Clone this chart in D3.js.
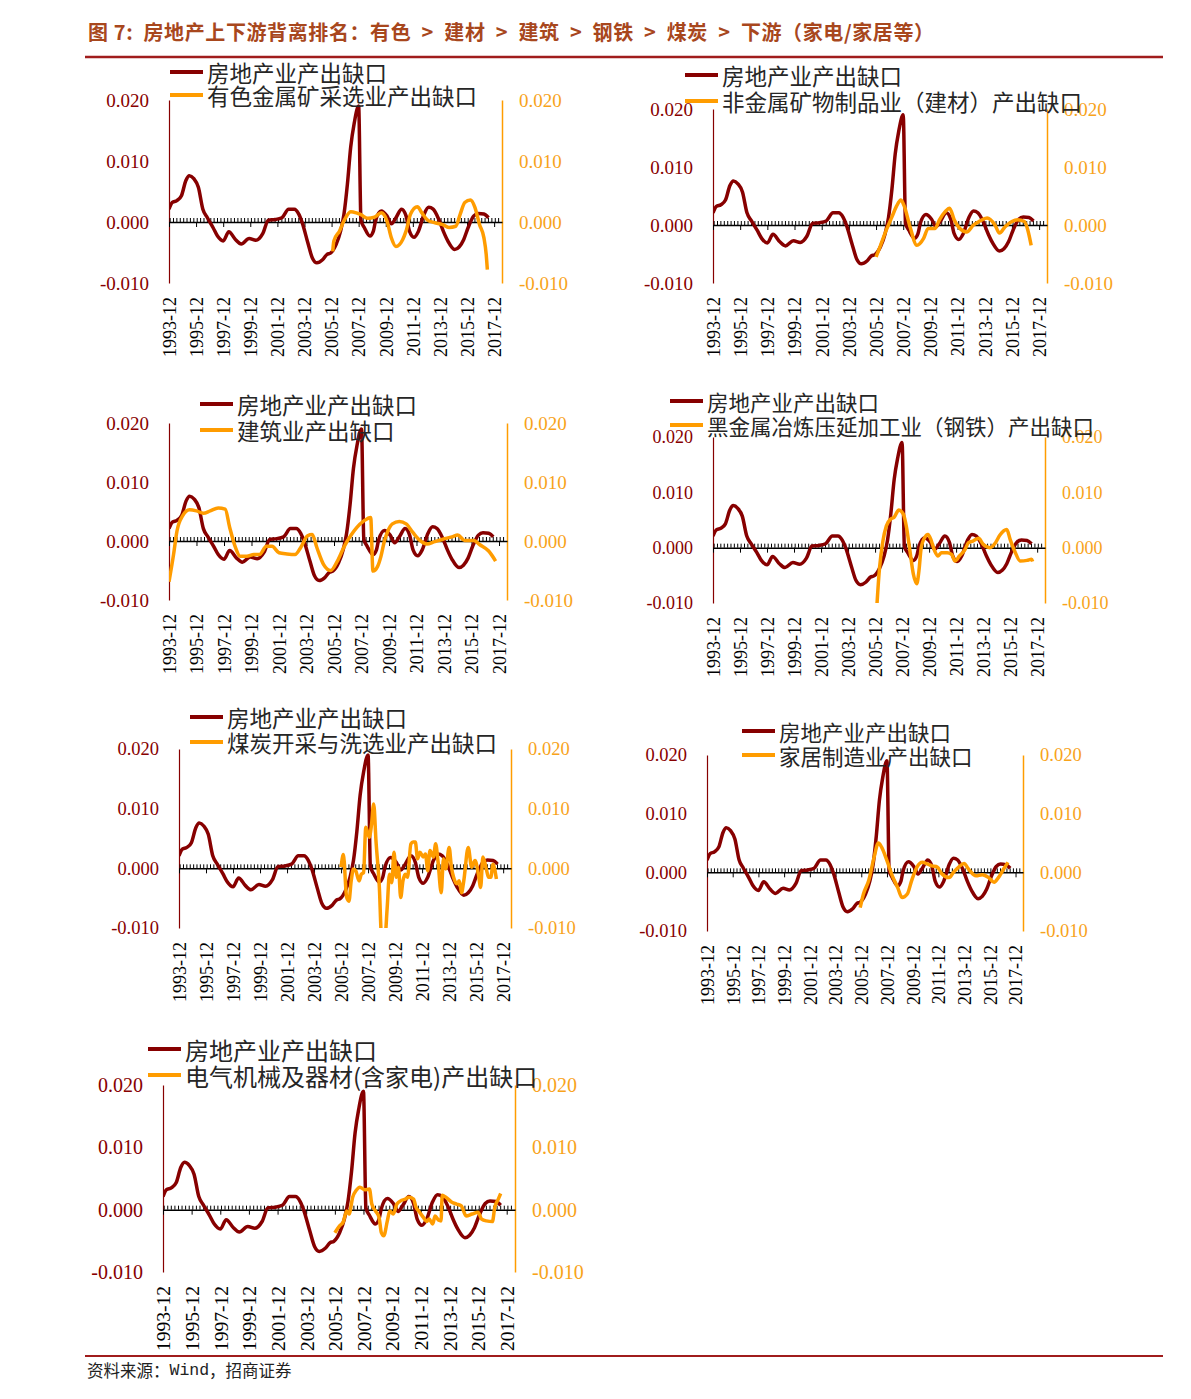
<!DOCTYPE html>
<html>
<head>
<meta charset="utf-8">
<script src="https://cdn.jsdelivr.net/npm/d3@7"></script>
<style>
  body { margin: 0; background: #fff; }
</style>
</head>
<body>
<div id="chart"></div>
<script>
// ---- data ----
const titleText = "图 7:  房地产上下游背离排名：有色  >  建材  >  建筑  >  钢铁  >  煤炭  >  下游（家电/家居等）"
const sourceCjk = "资料来源："
const sourceWind = "Wind"
const sourceRest = "，招商证券"

const redName = "房地产业产出缺口"
const orangeNames = [
  "有色金属矿采选业产出缺口",
  "非金属矿物制品业（建材）产出缺口",
  "建筑业产出缺口",
  "黑金属冶炼压延加工业（钢铁）产出缺口",
  "煤炭开采与洗选业产出缺口",
  "家居制造业产出缺口",
  "电气机械及器材(含家电)产出缺口"
]

const yTicks = [-0.01, 0, 0.01, 0.02]
const xTickLabels = ["1993-12", "1995-12", "1997-12", "1999-12", "2001-12", "2003-12",
  "2005-12", "2007-12", "2009-12", "2011-12", "2013-12", "2015-12", "2017-12"]
const xStart = "1993-12"
const xEnd = "2018-07"

// 房地产业产出缺口 (same in every panel)
const realEstate = [
  ["1993-12", 0.0021], ["1994-03", 0.0032], ["1994-07", 0.0035], ["1994-11", 0.0043],
  ["1995-03", 0.0068], ["1995-06", 0.0076], ["1995-10", 0.0071], ["1996-02", 0.0057],
  ["1996-06", 0.0021], ["1996-10", 0.0007], ["1997-03", -0.0009], ["1997-07", -0.0023],
  ["1997-12", -0.0031], ["1998-05", -0.0016], ["1998-11", -0.0029], ["1999-04", -0.0036],
  ["1999-11", -0.0027], ["2000-05", -0.0030], ["2000-11", -0.0019], ["2001-04", 0.0003],
  ["2001-10", 0.0004], ["2002-04", 0.0007], ["2002-10", 0.0021], ["2003-03", 0.0021],
  ["2003-07", 0.0013], ["2003-10", -0.0001], ["2004-03", -0.0034], ["2004-07", -0.0059],
  ["2004-11", -0.0067], ["2005-04", -0.0062], ["2005-08", -0.0053], ["2005-11", -0.0051],
  ["2006-04", -0.0037], ["2006-08", -0.0015], ["2006-11", 0.0013], ["2007-02", 0.0062],
  ["2007-05", 0.0123], ["2007-08", 0.0161], ["2007-12", 0.0190], ["2008-02", 0.0003],
  ["2008-05", -0.0009], ["2008-10", -0.0023], ["2009-01", -0.0015], ["2009-03", 0.0002],
  ["2009-08", 0.0018], ["2010-01", 0.0010], ["2010-05", -0.0003], ["2010-09", 0.0007],
  ["2011-02", 0.0021], ["2011-06", 0.0010], ["2011-09", -0.0015], ["2012-01", -0.0025],
  ["2012-05", -0.0015], ["2012-10", 0.0013], ["2013-02", 0.0024], ["2013-06", 0.0021],
  ["2013-11", 0.0004], ["2014-03", -0.0015], ["2014-07", -0.0031], ["2015-01", -0.0045],
  ["2015-05", -0.0041], ["2015-09", -0.0029], ["2016-01", -0.0009], ["2016-06", 0.0010],
  ["2016-10", 0.0014], ["2017-03", 0.0013], ["2017-07", 0.0007]
]

const nonferrous = [
  ["2006-01", -0.0048], ["2006-02", -0.0031], ["2006-07", -0.0015], ["2006-11", 0.0002],
  ["2007-05", 0.0017], ["2007-10", 0.0015], ["2008-02", 0.0012], ["2008-08", 0.0006],
  ["2009-02", 0.0008], ["2009-08", 0.0015], ["2010-01", 0.0002], ["2010-05", -0.0026],
  ["2010-09", -0.0040], ["2011-03", -0.0029], ["2011-06", -0.0015], ["2011-10", 0.0013],
  ["2012-04", 0.0025], ["2012-08", 0.0015], ["2013-01", 0.0003], ["2013-07", -0.0001],
  ["2014-02", -0.0004], ["2014-08", -0.0009], ["2015-02", -0.0007], ["2015-06", 0.0013],
  ["2015-10", 0.0032], ["2016-03", 0.0036], ["2016-07", 0.0024], ["2016-11", -0.0004],
  ["2017-03", -0.0026], ["2017-05", -0.0053], ["2017-06", -0.0078]
]

const buildingMaterials = [
  ["2005-12", -0.0055], ["2006-04", -0.0035], ["2006-09", -0.0009], ["2007-02", 0.0014],
  ["2007-06", 0.0032], ["2007-10", 0.0043], ["2008-01", 0.0032], ["2008-06", -0.0003],
  ["2008-12", -0.0035], ["2009-06", -0.0023], ["2009-10", -0.0006], ["2010-04", -0.0006],
  ["2010-08", 0.0009], ["2011-01", 0.0023], ["2011-05", 0.0029], ["2011-09", 0.0009],
  ["2012-02", -0.0006], ["2012-08", -0.0012], ["2013-02", 0.0000], ["2013-07", 0.0006],
  ["2014-02", 0.0012], ["2014-09", 0.0000], ["2015-01", -0.0014], ["2015-06", -0.0003],
  ["2015-12", 0.0006], ["2016-05", 0.0009], ["2016-11", 0.0006], ["2017-02", -0.0009],
  ["2017-05", -0.0035]
]

const construction = [
  ["1993-12", -0.0069], ["1994-04", -0.0023], ["1994-07", 0.0017], ["1994-12", 0.0043],
  ["1995-06", 0.0053], ["1995-12", 0.0051], ["1996-06", 0.0047], ["1996-12", 0.0051],
  ["1997-07", 0.0056], ["1998-01", 0.0054], ["1998-05", 0.0023], ["1998-10", -0.0011],
  ["1999-02", -0.0026], ["1999-08", -0.0026], ["2000-02", -0.0023], ["2000-07", -0.0023],
  ["2001-01", -0.0009], ["2001-06", -0.0009], ["2001-12", -0.0020], ["2002-07", -0.0022],
  ["2003-02", -0.0023], ["2003-07", -0.0011], ["2004-01", 0.0009], ["2004-05", 0.0011],
  ["2004-09", -0.0011], ["2005-03", -0.0040], ["2005-09", -0.0050], ["2006-03", -0.0034],
  ["2006-09", -0.0009], ["2007-03", 0.0010], ["2007-08", 0.0023], ["2008-02", 0.0034],
  ["2008-08", 0.0040], ["2008-10", -0.0051], ["2009-02", -0.0043], ["2009-05", -0.0026],
  ["2009-08", 0.0000], ["2009-11", 0.0017], ["2010-03", 0.0029], ["2010-09", 0.0033],
  ["2011-03", 0.0029], ["2011-09", 0.0014], ["2012-03", 0.0001], ["2012-09", -0.0005],
  ["2013-04", -0.0001], ["2013-11", 0.0003], ["2014-07", 0.0007], ["2014-12", 0.0010],
  ["2015-06", 0.0001], ["2016-02", 0.0001], ["2016-07", -0.0006], ["2017-03", -0.0017],
  ["2017-09", -0.0034]
]

const steel = [
  ["2005-12", -0.0160], ["2006-04", -0.0036], ["2006-07", 0.0012], ["2006-10", 0.0039],
  ["2007-02", 0.0052], ["2007-05", 0.0055], ["2007-09", 0.0068], ["2008-01", 0.0061],
  ["2008-04", 0.0036], ["2008-07", -0.0006], ["2008-10", -0.0048], ["2009-01", -0.0065],
  ["2009-03", -0.0042], ["2009-05", 0.0000], ["2009-08", 0.0018], ["2009-11", 0.0024],
  ["2010-02", 0.0012], ["2010-05", -0.0006], ["2010-08", -0.0015], ["2010-11", -0.0009],
  ["2011-04", -0.0009], ["2011-08", -0.0012], ["2011-11", -0.0024], ["2012-03", -0.0015],
  ["2012-08", -0.0003], ["2012-11", 0.0009], ["2013-03", 0.0012], ["2013-08", 0.0017],
  ["2013-12", 0.0006], ["2014-06", 0.0000], ["2014-11", 0.0009], ["2015-03", 0.0023],
  ["2015-09", 0.0033], ["2015-12", 0.0015], ["2016-04", -0.0006], ["2016-09", -0.0024],
  ["2017-03", -0.0023], ["2017-07", -0.0021], ["2017-08", -0.0025]
]

const coal = [
  ["2005-12", 0.0002], ["2006-02", 0.0023], ["2006-05", -0.0049], ["2006-07", -0.0055],
  ["2006-09", -0.0021], ["2006-11", -0.0001], ["2007-01", -0.0004], ["2007-04", -0.0021],
  ["2007-06", -0.0010], ["2007-08", -0.0007], ["2007-10", 0.0069], ["2008-01", 0.0052],
  ["2008-03", 0.0072], ["2008-05", 0.0108], ["2008-07", 0.0047], ["2008-10", -0.0032],
  ["2008-12", -0.0115], ["2009-03", -0.0115], ["2009-05", -0.0066], ["2009-07", -0.0010],
  ["2009-09", -0.0024], ["2009-11", 0.0027], ["2010-01", -0.0015], ["2010-03", 0.0002],
  ["2010-05", -0.0049], ["2010-07", -0.0021], ["2010-09", -0.0010], ["2010-11", -0.0015],
  ["2011-02", 0.0041], ["2011-04", 0.0044], ["2011-06", 0.0044], ["2011-08", 0.0016],
  ["2011-10", 0.0027], ["2012-01", 0.0019], ["2012-03", 0.0024], ["2012-05", -0.0004],
  ["2012-07", 0.0030], ["2012-10", 0.0019], ["2012-12", 0.0041], ["2013-02", 0.0013],
  ["2013-05", -0.0041], ["2013-07", 0.0016], ["2013-09", -0.0001], ["2013-12", 0.0035],
  ["2014-02", 0.0002], ["2014-04", -0.0015], ["2014-07", -0.0026], ["2014-09", -0.0021],
  ["2014-11", -0.0041], ["2015-01", -0.0021], ["2015-05", 0.0035], ["2015-08", 0.0002],
  ["2015-11", 0.0013], ["2016-02", -0.0010], ["2016-04", -0.0032], ["2016-06", 0.0019],
  ["2016-09", -0.0001], ["2016-11", -0.0015], ["2017-01", -0.0015], ["2017-03", 0.0007],
  ["2017-06", -0.0018]
]

const furniture = [
  ["2005-11", -0.0060], ["2006-02", -0.0037], ["2006-07", -0.0014], ["2006-12", 0.0026],
  ["2007-04", 0.0050], ["2007-07", 0.0043], ["2007-12", 0.0020], ["2008-05", -0.0006],
  ["2008-10", -0.0026], ["2009-02", -0.0043], ["2009-07", -0.0037], ["2009-11", -0.0014],
  ["2010-04", 0.0009], ["2010-09", 0.0017], ["2011-02", 0.0014], ["2011-06", 0.0011],
  ["2011-11", 0.0009], ["2012-03", -0.0002], ["2012-10", -0.0009], ["2013-02", 0.0000],
  ["2013-07", 0.0009], ["2013-12", 0.0015], ["2014-04", 0.0006], ["2014-11", -0.0006],
  ["2015-05", -0.0004], ["2015-11", -0.0009], ["2016-04", -0.0017], ["2016-08", -0.0009],
  ["2017-01", 0.0006], ["2017-05", 0.0017]
]

const electrical = [
  ["2005-12", -0.0037], ["2006-04", -0.0026], ["2006-07", -0.0020], ["2006-10", -0.0002],
  ["2006-12", -0.0007], ["2007-03", 0.0020], ["2007-06", 0.0031], ["2007-09", 0.0036],
  ["2008-01", 0.0032], ["2008-05", 0.0033], ["2008-07", 0.0009], ["2008-10", -0.0002],
  ["2009-01", -0.0012], ["2009-03", -0.0037], ["2009-05", -0.0042], ["2009-08", -0.0018],
  ["2009-10", -0.0002], ["2010-01", -0.0007], ["2010-04", 0.0009], ["2010-08", 0.0015],
  ["2010-11", 0.0017], ["2011-02", 0.0020], ["2011-06", 0.0017], ["2011-08", 0.0004],
  ["2011-11", -0.0004], ["2012-02", -0.0012], ["2012-05", -0.0019], ["2012-07", -0.0015],
  ["2012-10", -0.0023], ["2012-12", -0.0010], ["2013-03", -0.0017], ["2013-05", -0.0018],
  ["2013-06", 0.0023], ["2013-09", 0.0020], ["2014-02", 0.0012], ["2014-06", 0.0009],
  ["2014-10", 0.0006], ["2015-02", -0.0010], ["2015-07", -0.0007], ["2015-12", -0.0004],
  ["2016-03", -0.0015], ["2016-07", -0.0018], ["2016-12", -0.0019], ["2017-02", 0.0004],
  ["2017-05", 0.0017], ["2017-07", 0.0026]
]

const orangeSeries = [nonferrous, buildingMaterials, construction, steel, coal, furniture, electrical]

// ---- layout (pixels) ----
const panelLayout = [
  { left: 169, right: 502, top: 100, bottom: 283, swatchX: 170, legendY: [72, 95], legendSize: 22.5, tickSize: 19, labelSize: 18 },
  { left: 713, right: 1047, top: 109, bottom: 283, swatchX: 685, legendY: [75, 101], legendSize: 22.5, tickSize: 19, labelSize: 18 },
  { left: 169, right: 507, top: 423, bottom: 600, swatchX: 200, legendY: [404, 430], legendSize: 22.5, tickSize: 19, labelSize: 18 },
  { left: 713, right: 1045, top: 437, bottom: 603, swatchX: 670, legendY: [401, 425], legendSize: 21.5, tickSize: 18, labelSize: 18 },
  { left: 179, right: 511, top: 749, bottom: 928, swatchX: 190, legendY: [717, 742], legendSize: 22.5, tickSize: 18.5, labelSize: 18 },
  { left: 707, right: 1023, top: 755, bottom: 931, swatchX: 742, legendY: [731, 755], legendSize: 21.5, tickSize: 18.5, labelSize: 18 },
  { left: 163, right: 515, top: 1085, bottom: 1272, swatchX: 148, legendY: [1049, 1075], legendSize: 24, tickSize: 20, labelSize: 19.5 }
]

const darkRed = "#870000"
const orange = "#FF9C00"
const orangeText = "#F8A31A"
const serif = "'Liberation Serif', 'Times New Roman', serif"
const cjk = "'Noto Sans CJK SC', sans-serif"

const parseMonth = d3.timeParse("%Y-%m")
const fmtMonth = d3.timeFormat("%Y-%m")

const width = 1191
const height = 1399

const svg = d3.select("#chart")
  .append("svg")
    .attr("width", width)
    .attr("height", height)
    .attr("viewBox", `0 0 ${width} ${height}`)

const drawHeader = () => {
  svg.append("text")
    .attr("x", 88)
    .attr("y", 31)
    .attr("dominant-baseline", "central")
    .attr("font-family", cjk)
    .attr("font-weight", "bold")
    .attr("font-size", 20)
    .attr("letter-spacing", 0.6)
    .attr("fill", "#A8471D")
    .style("white-space", "pre")
    .text(titleText)

  svg.append("line")
    .attr("x1", 85).attr("x2", 1163)
    .attr("y1", 57).attr("y2", 57)
    .attr("stroke", "#A01C1C")
    .attr("stroke-width", 2.5)

  svg.append("line")
    .attr("x1", 85).attr("x2", 1163)
    .attr("y1", 1356).attr("y2", 1356)
    .attr("stroke", "#A01C1C")
    .attr("stroke-width", 2)

  const src = svg.append("text")
    .attr("x", 87)
    .attr("y", 1370)
    .attr("dominant-baseline", "central")
    .attr("font-family", cjk)
    .attr("font-size", 16.5)
    .attr("fill", "#222")
  src.append("tspan").text(sourceCjk)
  src.append("tspan").attr("font-family", "'Liberation Mono', monospace").attr("font-size", 16.5).text(sourceWind)
  src.append("tspan").text(sourceRest)
}

const drawPanel = (cfg, series, name, i) => {
  const x = d3.scaleTime()
    .domain([parseMonth(xStart), parseMonth(xEnd)])
    .range([cfg.left, cfg.right])
  const y = d3.scaleLinear()
    .domain([-0.01, 0.02])
    .range([cfg.bottom, cfg.top])
  const yRight = d3.scaleLinear()
    .domain([-0.01, 0.02])
    .range([cfg.bottom, cfg.top])

  const g = svg.append("g").attr("class", `panel-${i}`)

  // left axis
  g.append("g")
      .attr("transform", `translate(${cfg.left},0)`)
      .call(d3.axisLeft(y).tickValues(yTicks).tickSize(0).tickPadding(20).tickFormat(d => d.toFixed(3)))
      .call(a => a.select(".domain").attr("stroke", darkRed).attr("stroke-width", 1.2))
      .call(a => a.selectAll("text")
        .attr("fill", darkRed)
        .attr("font-family", serif)
        .attr("font-size", cfg.tickSize))

  // right axis
  g.append("g")
      .attr("transform", `translate(${cfg.right},0)`)
      .call(d3.axisRight(yRight).tickValues(yTicks).tickSize(0).tickPadding(17).tickFormat(d => d.toFixed(3)))
      .call(a => a.select(".domain").attr("stroke", orange).attr("stroke-width", 1.5))
      .call(a => a.selectAll("text")
        .attr("fill", orangeText)
        .attr("font-family", serif)
        .attr("font-size", cfg.tickSize))

  // zero line with tick marks
  const y0 = y(0)
  const minorTicks = d3.timeMonth.every(3).range(parseMonth(xStart), parseMonth(xEnd))
  g.append("g")
    .selectAll("line")
    .data(minorTicks)
    .join("line")
      .attr("x1", d => x(d)).attr("x2", d => x(d))
      .attr("y1", y0).attr("y2", y0 - 4)
      .attr("stroke", "#000")
      .attr("stroke-width", 1)

  const majorDates = xTickLabels.map(parseMonth)
  g.append("g")
      .attr("transform", `translate(0,${y0})`)
      .call(d3.axisBottom(x).tickValues(majorDates).tickSize(5).tickSizeOuter(0).tickFormat(""))
      .call(a => a.select(".domain").attr("stroke", "#000").attr("stroke-width", 1.5))
      .call(a => a.selectAll(".tick line").attr("stroke", "#000").attr("stroke-width", 1))

  // rotated date labels under the plot
  g.append("g")
      .attr("transform", `translate(0,${cfg.bottom})`)
      .call(d3.axisBottom(x).tickValues(majorDates).tickSize(0).tickFormat(fmtMonth))
      .call(a => a.select(".domain").remove())
      .call(a => a.selectAll("text")
        .attr("transform", "rotate(-90)")
        .attr("text-anchor", "end")
        .attr("x", -14)
        .attr("y", 0)
        .attr("dy", "0.35em")
        .attr("fill", "#000")
        .attr("font-family", serif)
        .attr("font-size", cfg.labelSize))

  // lines
  const clipId = `clip-${i}`
  g.append("clipPath").attr("id", clipId)
    .append("rect")
      .attr("x", cfg.left).attr("y", cfg.top)
      .attr("width", cfg.right - cfg.left)
      .attr("height", cfg.bottom - cfg.top)

  const redLine = d3.line()
    .x(d => x(parseMonth(d[0])))
    .y(d => y(d[1]))
    .curve(d3.curveMonotoneX)

  const orangeLine = d3.line()
    .x(d => x(parseMonth(d[0])))
    .y(d => yRight(d[1]))
    .curve(d3.curveMonotoneX)

  const plot = g.append("g").attr("clip-path", `url(#${clipId})`)
  plot.append("path")
    .attr("d", redLine(realEstate))
    .attr("fill", "none")
    .attr("stroke", darkRed)
    .attr("stroke-width", 3.5)
    .attr("stroke-linejoin", "round")

  plot.append("path")
    .attr("d", orangeLine(series))
    .attr("fill", "none")
    .attr("stroke", orange)
    .attr("stroke-width", 3.5)
    .attr("stroke-linejoin", "round")

  // legend
  const legend = g.append("g")
  const items = [{ label: redName, color: darkRed }, { label: name, color: orange }]
  items.forEach((it, k) => {
    const ly = cfg.legendY[k]
    legend.append("line")
      .attr("x1", cfg.swatchX).attr("x2", cfg.swatchX + 33)
      .attr("y1", ly).attr("y2", ly)
      .attr("stroke", it.color)
      .attr("stroke-width", 4)
    legend.append("text")
      .attr("x", cfg.swatchX + 37)
      .attr("y", ly)
      .attr("dominant-baseline", "central")
      .attr("font-family", cjk)
      .attr("font-size", cfg.legendSize)
      .attr("fill", "#262626")
      .text(it.label)
  })
}

drawHeader()
panelLayout.forEach((cfg, i) => drawPanel(cfg, orangeSeries[i], orangeNames[i], i))
</script>
</body>
</html>
